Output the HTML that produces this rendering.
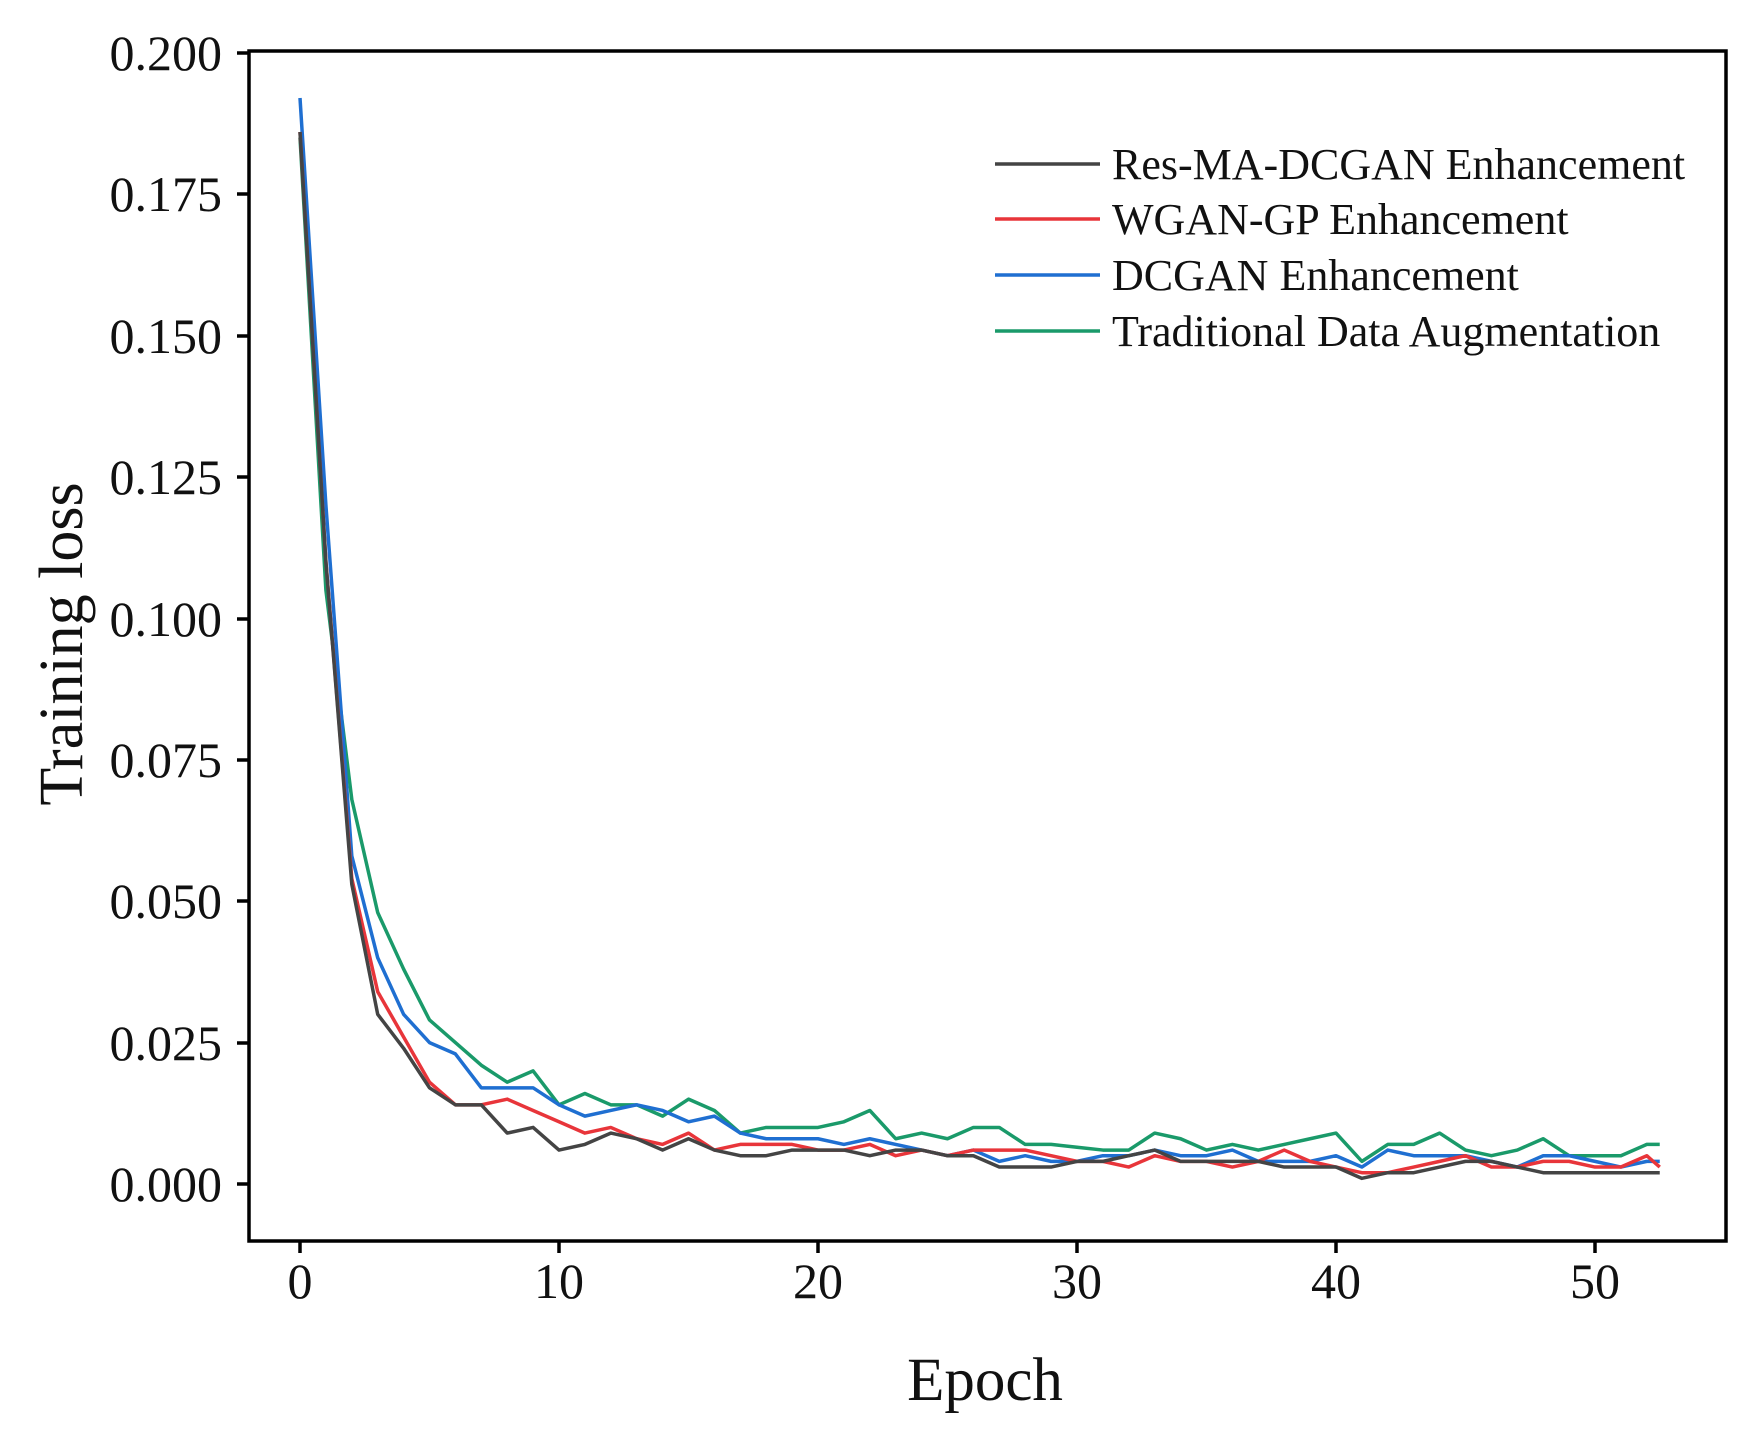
<!DOCTYPE html>
<html><head><meta charset="utf-8"><style>html,body{margin:0;padding:0;background:#fff}svg{display:block}</style></head>
<body>
<svg width="1752" height="1437" viewBox="0 0 1752 1437" xmlns="http://www.w3.org/2000/svg" font-family="Liberation Serif, serif">
<rect x="249" y="51" width="1477" height="1190" fill="none" stroke="#000" stroke-width="3.5"/>
<g stroke="#000" stroke-width="3.5">
<line x1="249" y1="53" x2="237" y2="53"/><line x1="249" y1="194" x2="237" y2="194"/><line x1="249" y1="336" x2="237" y2="336"/><line x1="249" y1="477" x2="237" y2="477"/><line x1="249" y1="619" x2="237" y2="619"/><line x1="249" y1="760" x2="237" y2="760"/><line x1="249" y1="901" x2="237" y2="901"/><line x1="249" y1="1043" x2="237" y2="1043"/><line x1="249" y1="1184" x2="237" y2="1184"/>
<line x1="300" y1="1241" x2="300" y2="1253"/><line x1="559" y1="1241" x2="559" y2="1253"/><line x1="818" y1="1241" x2="818" y2="1253"/><line x1="1077" y1="1241" x2="1077" y2="1253"/><line x1="1336" y1="1241" x2="1336" y2="1253"/><line x1="1595" y1="1241" x2="1595" y2="1253"/>
</g>
<g font-size="50" text-anchor="end" fill="#111">
<text x="222" y="70">0.200</text><text x="222" y="211">0.175</text><text x="222" y="353">0.150</text><text x="222" y="494">0.125</text><text x="222" y="636">0.100</text><text x="222" y="777">0.075</text><text x="222" y="918">0.050</text><text x="222" y="1060">0.025</text><text x="222" y="1201">0.000</text>
</g>
<g font-size="50" text-anchor="middle" fill="#111">
<text x="300" y="1298">0</text><text x="559" y="1298">10</text><text x="818" y="1298">20</text><text x="1077" y="1298">30</text><text x="1336" y="1298">40</text><text x="1595" y="1298">50</text>
</g>
<text x="985" y="1400" font-size="61" text-anchor="middle" fill="#111">Epoch</text>
<text transform="translate(82,644) rotate(-90)" font-size="62" text-anchor="middle" fill="#111">Training loss</text>
<g transform="translate(300,1184) scale(25.9,-5656)" fill="none" stroke-width="3.5" stroke-linejoin="round">
<polyline vector-effect="non-scaling-stroke" stroke="#1a9a6a" points="0,0.185 1,0.105 2,0.068 3,0.048 4,0.038 5,0.029 6,0.025 7,0.021 8,0.018 9,0.020 10,0.014 11,0.016 12,0.014 13,0.014 14,0.012 15,0.015 16,0.013 17,0.009 18,0.010 19,0.010 20,0.010 21,0.011 22,0.013 23,0.008 24,0.009 25,0.008 26,0.010 27,0.010 28,0.007 29,0.007 30,0.0065 31,0.006 32,0.006 33,0.009 34,0.008 35,0.006 36,0.007 37,0.006 38,0.007 39,0.008 40,0.009 41,0.004 42,0.007 43,0.007 44,0.009 45,0.006 46,0.005 47,0.006 48,0.008 49,0.005 50,0.005 51,0.005 52,0.007 52.5,0.007"/>
<polyline vector-effect="non-scaling-stroke" stroke="#1f6fd1" points="0,0.192 1,0.12 2,0.058 3,0.040 4,0.030 5,0.025 6,0.023 7,0.017 8,0.017 9,0.017 10,0.014 11,0.012 12,0.013 13,0.014 14,0.013 15,0.011 16,0.012 17,0.009 18,0.008 19,0.008 20,0.008 21,0.007 22,0.008 23,0.007 24,0.006 25,0.005 26,0.006 27,0.004 28,0.005 29,0.004 30,0.004 31,0.005 32,0.005 33,0.006 34,0.005 35,0.005 36,0.006 37,0.004 38,0.004 39,0.004 40,0.005 41,0.003 42,0.006 43,0.005 44,0.005 45,0.005 46,0.004 47,0.003 48,0.005 49,0.005 50,0.004 51,0.003 52,0.004 52.5,0.004"/>
<polyline vector-effect="non-scaling-stroke" stroke="#e8353a" points="0,0.186 1,0.11 2,0.054 3,0.034 4,0.026 5,0.018 6,0.014 7,0.014 8,0.015 9,0.013 10,0.011 11,0.009 12,0.010 13,0.008 14,0.007 15,0.009 16,0.006 17,0.007 18,0.007 19,0.007 20,0.006 21,0.006 22,0.007 23,0.005 24,0.006 25,0.005 26,0.006 27,0.006 28,0.006 29,0.005 30,0.004 31,0.004 32,0.003 33,0.005 34,0.004 35,0.004 36,0.003 37,0.004 38,0.006 39,0.004 40,0.003 41,0.002 42,0.002 43,0.003 44,0.004 45,0.005 46,0.003 47,0.003 48,0.004 49,0.004 50,0.003 51,0.003 52,0.005 52.5,0.003"/>
<polyline vector-effect="non-scaling-stroke" stroke="#444" points="0,0.186 1,0.11 2,0.053 3,0.030 4,0.024 5,0.017 6,0.014 7,0.014 8,0.009 9,0.010 10,0.006 11,0.007 12,0.009 13,0.008 14,0.006 15,0.008 16,0.006 17,0.005 18,0.005 19,0.006 20,0.006 21,0.006 22,0.005 23,0.006 24,0.006 25,0.005 26,0.005 27,0.003 28,0.003 29,0.003 30,0.004 31,0.004 32,0.005 33,0.006 34,0.004 35,0.004 36,0.004 37,0.004 38,0.003 39,0.003 40,0.003 41,0.001 42,0.002 43,0.002 44,0.003 45,0.004 46,0.004 47,0.003 48,0.002 49,0.002 50,0.002 51,0.002 52,0.002 52.5,0.002"/>
</g>
<g stroke-width="3.5">
<line x1="995" y1="164" x2="1100" y2="164" stroke="#444"/>
<line x1="995" y1="219" x2="1100" y2="219" stroke="#e8353a"/>
<line x1="995" y1="275" x2="1100" y2="275" stroke="#1f6fd1"/>
<line x1="995" y1="331" x2="1100" y2="331" stroke="#1a9a6a"/>
</g>
<g font-size="44" fill="#111">
<text x="1112" y="179">Res-MA-DCGAN Enhancement</text>
<text x="1112" y="234">WGAN-GP Enhancement</text>
<text x="1112" y="290">DCGAN Enhancement</text>
<text x="1112" y="346">Traditional Data Augmentation</text>
</g>
</svg>
</body></html>
